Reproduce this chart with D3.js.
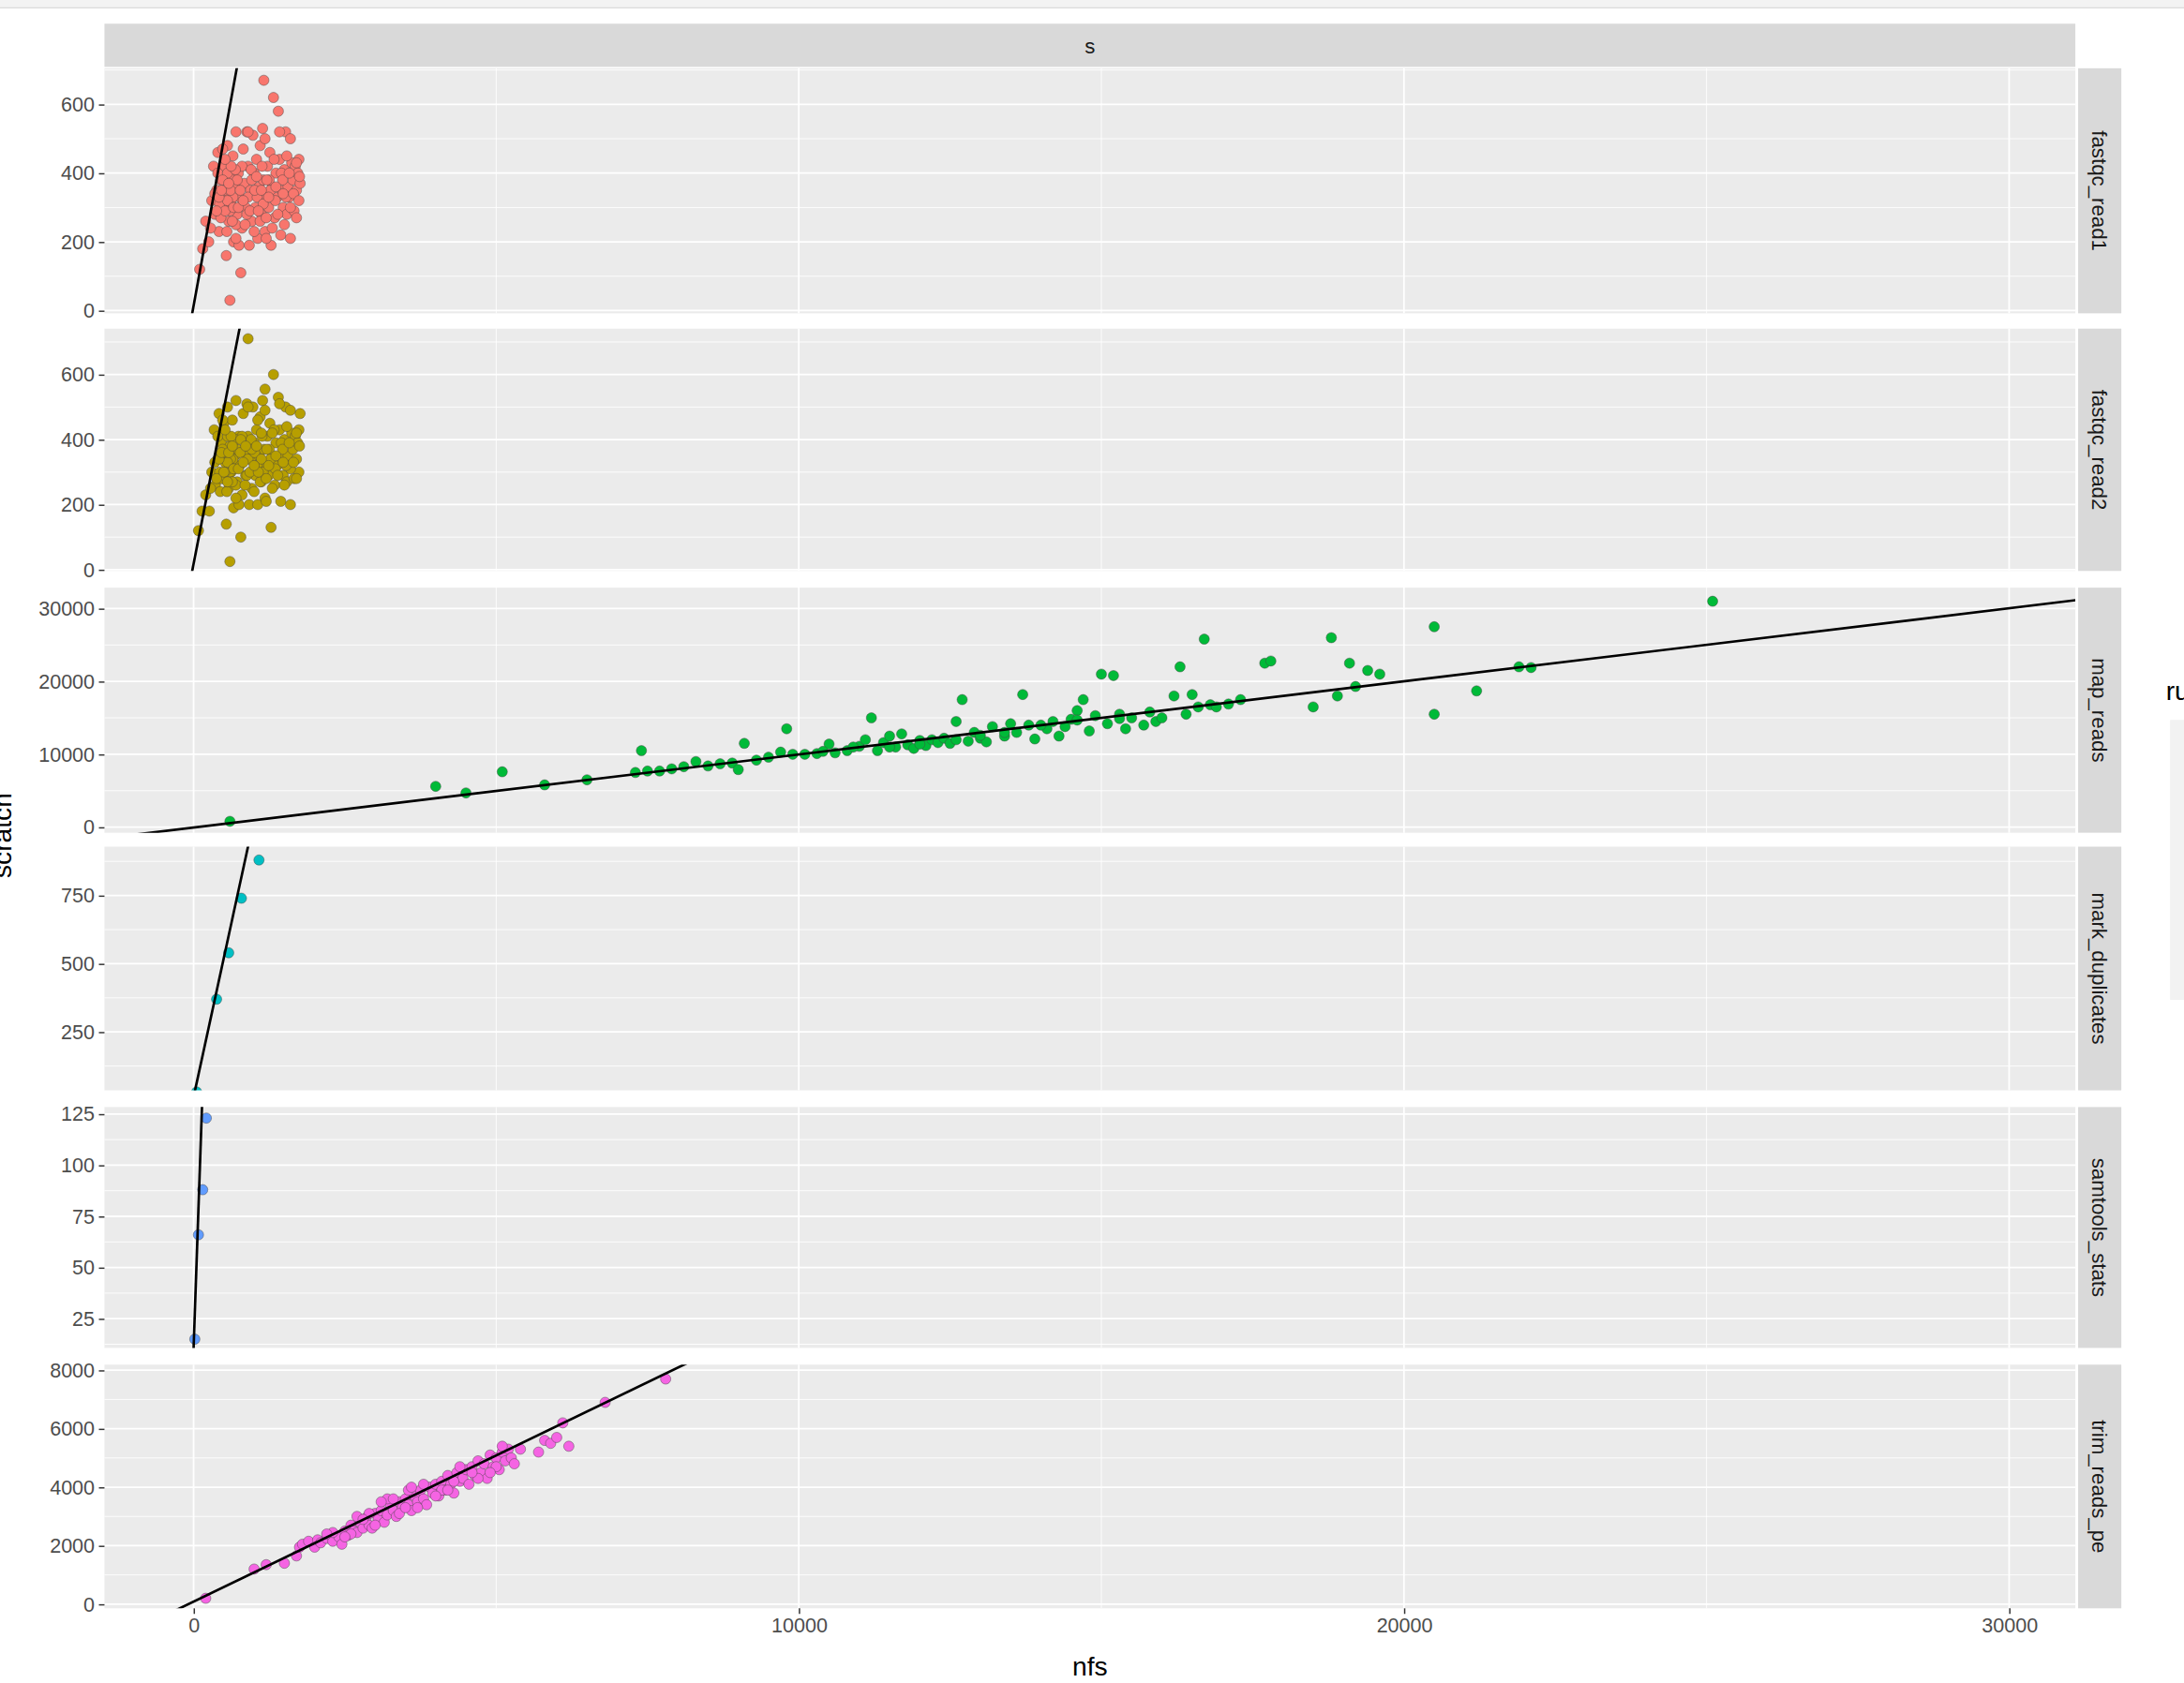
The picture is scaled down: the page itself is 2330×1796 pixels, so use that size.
<!DOCTYPE html>
<html><head><meta charset="utf-8">
<script src="https://cdn.jsdelivr.net/npm/d3@7"></script>
<style>body{margin:0;background:#fff}svg{display:block}</style>
</head><body>
<script>
// ---- data ----
const facets = ["fastqc_read1","fastqc_read2","map_reads","mark_duplicates","samtools_stats","trim_reads_pe"];
const colors = ["#F8766D","#B79F00","#00BA38","#00BFC4","#619CFF","#F564E3"];
const xTicks = [0,10000,20000,30000];
const yTicksList = [[0,200,400,600],[0,200,400,600],[0,10000,20000,30000],[250,500,750],[25,50,75,100,125],[0,2000,4000,6000,8000]];
// fitted lines [intercept, slope]
const fits = [[14,0.969],[18,0.953],[-49,1.003],[12,1.02],[10.7,0.85],[87,1.0]];

const fastqc_read1 = [[100,120],[150,180],[200,260],[250,200],[300,320],[330,420],[350,280],[380,350],[400,460],[420,230],[450,380],[470,300],[500,420],[520,340],[540,160],[560,480],[580,260],[600,30],[600,390],[620,310],[650,450],[660,200],[680,360],[700,520],[720,280],[740,400],[760,330],[780,110],[800,240],[820,470],[840,370],[860,300],[880,520],[900,420],[920,190],[940,350],[960,260],[980,510],[1000,400],[1020,300],[1040,440],[1060,210],[1080,360],[1100,480],[1120,280],[1140,530],[1150,380],[1160,670],[1180,230],[1200,330],[1220,420],[1240,300],[1260,460],[1280,190],[1300,360],[1320,620],[1340,270],[1360,400],[1380,330],[1400,580],[1420,440],[1440,220],[1460,350],[1480,300],[1500,410],[1520,520],[1540,280],[1560,360],[1580,330],[1600,210],[1620,430],[1640,380],[1660,290],[1680,420],[1700,350],[1720,400],[1740,440],[1760,370],[450,270],[500,350],[550,230],[600,290],[650,330],[700,250],[750,190],[800,420],[850,250],[900,330],[950,410],[1000,230],[1050,330],[1100,260],[1150,310],[1200,270],[1250,380],[1300,240],[1350,320],[1450,400],[1500,250],[1600,300],[1700,270],[400,400],[480,470],[560,400],[640,260],[720,380],[880,280],[1010,350],[1130,420],[1270,350],[1390,280],[1530,330],[350,340],[430,310],[520,290],[610,350],[690,410],[770,350],[930,290],[1070,290],[1210,380],[1330,440],[1470,380],[1650,340],[1750,390],[280,240],[380,290],[1180,500],[1420,520],[1600,500],[1540,450],[1700,430],[1740,320],[1200,210],[900,520],[700,210],[620,420],[560,320],[480,380],[420,330],[460,350],[520,440],[580,370],[660,300],[740,300],[820,320],[960,380],[1040,390],[1120,350],[1240,330],[1360,360],[1480,340],[1580,400]];
const fastqc_read2 = [[80,120],[140,180],[200,230],[260,180],[300,300],[340,430],[360,260],[400,340],[420,480],[440,240],[460,390],[480,280],[500,450],[520,330],[540,140],[560,500],[580,250],[600,25],[600,380],[620,300],[640,460],[660,190],[680,350],[700,520],[720,270],[740,410],[760,320],[780,100],[800,230],[820,480],[840,360],[860,290],[880,510],[900,410],[920,200],[940,340],[960,250],[980,500],[1000,390],[1020,290],[1040,430],[1060,200],[1080,350],[1100,470],[1120,270],[1140,520],[1160,370],[1180,555],[1180,220],[1200,320],[1220,410],[1240,290],[1260,450],[1280,130],[1300,350],[1320,600],[1340,260],[1360,390],[1380,320],[1400,530],[1420,430],[1440,210],[1460,340],[1480,290],[1500,400],[1520,500],[1540,270],[1560,350],[1580,320],[1600,200],[1620,420],[1640,370],[1660,280],[1680,410],[1700,340],[1720,390],[1740,430],[1760,480],[1740,300],[450,280],[500,360],[550,240],[600,300],[650,340],[700,260],[750,200],[800,410],[850,260],[900,340],[950,400],[1000,240],[1050,320],[1100,270],[1150,300],[1200,280],[1250,370],[1300,250],[1350,310],[1450,390],[1500,260],[1600,310],[1700,280],[400,410],[480,460],[560,410],[640,270],[720,370],[880,290],[1010,360],[1130,410],[1270,340],[1390,290],[1530,320],[350,330],[430,300],[520,300],[610,340],[690,400],[770,360],[930,300],[1070,300],[1210,370],[1330,430],[1470,370],[1650,330],[1750,380],[280,250],[380,280],[1180,490],[1420,510],[1600,490],[1540,440],[1700,420],[1200,210],[900,500],[700,220],[620,410],[560,330],[480,370],[420,340],[460,360],[520,430],[580,360],[660,310],[740,310],[820,330],[960,370],[1040,380],[1120,340],[1240,320],[1360,350],[1480,330],[1580,390],[900,710],[1120,420],[500,300],[640,380],[780,400],[560,270],[860,380],[1000,320],[1300,420],[1060,460]];
const map_reads = [[600,800],[4000,5600],[4500,4700],[5100,7600],[5800,5800],[6500,6500],[7300,7500],[7400,10500],[7500,7700],[7700,7700],[7900,8000],[8100,8300],[8300,9000],[8500,8400],[8700,8700],[8900,8800],[9000,7900],[9100,11500],[9300,9200],[9500,9600],[9700,10300],[9800,13500],[9900,10000],[10100,10000],[10300,10100],[10500,11400],[10600,10200],[10800,10500],[11000,11100],[11100,12000],[11200,15000],[11300,10500],[11400,11600],[11500,12500],[11600,11000],[11700,12800],[11800,11300],[11900,10800],[12000,11900],[12100,11200],[12200,12000],[12300,11600],[12400,12200],[12500,11500],[12600,14500],[12700,17500],[12800,11800],[12900,13000],[13000,12200],[13100,11700],[13200,13800],[13400,12500],[13500,14200],[13600,13000],[13700,18200],[13800,14000],[13900,12100],[14100,13500],[14200,14500],[14300,12500],[14400,13800],[14500,14800],[14600,16000],[14700,17500],[14800,13200],[14900,15300],[15000,21000],[15100,14200],[15200,20800],[15300,15500],[15400,13500],[15500,15000],[15700,14000],[15800,15800],[15900,14500],[16000,15000],[16200,18000],[16300,22000],[16400,15500],[16500,18200],[16600,16500],[16700,25800],[16800,16800],[16900,16500],[17100,16900],[17300,17500],[17700,22500],[17800,22800],[18500,16500],[18800,26000],[18900,18000],[19100,22500],[19200,19300],[19400,21500],[19600,21000],[20500,27500],[20500,15500],[21200,18700],[21900,22000],[22100,21900],[25100,31000],[10400,10400],[10900,11000],[11500,11000],[12000,11400],[12600,12000],[13000,12600],[13400,13000],[14000,14000],[14600,14700],[15300,14900]];
const mark_duplicates = [[50,30],[380,370],[580,540],[790,740],[1080,880]];
const samtools_stats = [[20,15],[80,66],[150,88],[210,123]];
const trim_reads_pe = [[200,200],[1000,1200],[1200,1350],[1500,1400],[1700,1650],[1750,1950],[1800,2050],[1900,2150],[2000,1950],[2050,2200],[2100,2100],[2200,2250],[2300,2150],[2400,2300],[2450,2050],[2500,2500],[2550,2350],[2600,2700],[2650,2500],[2700,2450],[2750,2800],[2800,2600],[2850,2950],[2900,2700],[2950,2600],[3000,3100],[3050,2900],[3100,3200],[3150,2800],[3200,3050],[3250,3400],[3300,3200],[3350,3000],[3400,3500],[3450,3300],[3500,3600],[3550,3400],[3600,3200],[3650,3700],[3700,3500],[3750,3900],[3800,3600],[3850,3400],[3900,4000],[3950,3800],[4000,4100],[4050,3700],[4100,4200],[4150,3900],[4200,4400],[4250,4100],[4300,3800],[4350,4500],[4400,4200],[4450,4300],[4500,4600],[4550,4100],[4600,4700],[4650,4400],[4700,4900],[4750,4500],[4800,4800],[4850,4300],[4900,5100],[4950,4700],[5000,5000],[5050,4600],[5100,5200],[5150,4900],[5200,5300],[5250,5000],[5300,4800],[3200,3600],[3550,3900],[3000,2700],[2700,3000],[2300,2450],[2600,2400],[3400,3100],[3800,4100],[4100,3900],[4400,4700],[4700,4300],[5000,4700],[2900,3100],[3300,3600],[3700,3300],[4300,4200],[4600,4500],[4900,4500],[2200,2400],[2500,2300],[3100,3500],[3600,4000],[4000,3700],[2800,2900],[3500,3300],[4200,3900],[5100,5400],[5400,5300],[5700,5200],[5800,5600],[5900,5500],[6000,5700],[6200,5400],[6100,6200],[6800,6900],[7800,7700]];
const seriesData = [fastqc_read1,fastqc_read2,map_reads,mark_duplicates,samtools_stats,trim_reads_pe];

// ---- layout (design units, scaled via viewBox) ----
const W=1568, H=1208.6;
const panelTops=[49,236,422,608,795,980], panelBots=[225,410,598,783,968,1155];
const yDomains=[[-8,705],[-4,741],[-764,32866],[36,929],[10.7,128.4],[-143,8190]];
const svg=d3.select("body").append("svg").attr("width",2330).attr("height",1796).attr("viewBox",`0 0 ${W} ${H}`);
const font="Liberation Sans, Arial, sans-serif";
svg.append("rect").attr("x",0).attr("y",0).attr("width",W).attr("height",5).attr("fill","#f3f3f3");
svg.append("line").attr("x1",0).attr("x2",W).attr("y1",5.5).attr("y2",5.5).attr("stroke","#dcdcdc");

const x=d3.scaleLinear().domain([-1473,31094]).range([75,1490]);
const xMinor=[-5000,5000,15000,25000];
svg.append("rect").attr("x",75).attr("y",17).attr("width",1415).attr("height",31).attr("fill","#d9d9d9");
svg.append("text").attr("x",782.5).attr("y",38.5).attr("text-anchor","middle").attr("font-family",font).attr("font-size",15).attr("fill","#1a1a1a").text("s");

const defs=svg.append("defs");
facets.forEach((f,i)=>{
  const t=panelTops[i], b=panelBots[i];
  const y=d3.scaleLinear().domain(yDomains[i]).range([b,t]);
  const g=svg.append("g");
  g.append("rect").attr("x",75).attr("y",t).attr("width",1415).attr("height",b-t).attr("fill","#ebebeb");
  const ticks=yTicksList[i];
  const step=ticks[1]-ticks[0];
  const minors=d3.range(ticks[0]-step/2,ticks[ticks.length-1]+step,step).filter(v=>v>yDomains[i][0]&&v<yDomains[i][1]);
  g.selectAll(".ymin").data(minors).join("line").attr("x1",75).attr("x2",1490).attr("y1",d=>y(d)).attr("y2",d=>y(d)).attr("stroke","#fff").attr("stroke-width",0.6);
  g.selectAll(".xmin").data(xMinor.filter(v=>v>-1473)).join("line").attr("y1",t).attr("y2",b).attr("x1",d=>x(d)).attr("x2",d=>x(d)).attr("stroke","#fff").attr("stroke-width",0.6);
  g.selectAll(".ymaj").data(ticks).join("line").attr("x1",75).attr("x2",1490).attr("y1",d=>y(d)).attr("y2",d=>y(d)).attr("stroke","#fff").attr("stroke-width",1.2);
  g.selectAll(".xmaj").data(xTicks).join("line").attr("y1",t).attr("y2",b).attr("x1",d=>x(d)).attr("x2",d=>x(d)).attr("stroke","#fff").attr("stroke-width",1.2);
  const ax=svg.append("g").attr("transform","translate(75,0)").call(d3.axisLeft(y).tickValues(ticks).tickSize(4).tickPadding(3).tickFormat(d3.format("d")));
  ax.select(".domain").remove();
  ax.selectAll("line").attr("stroke","#333");
  ax.selectAll("text").attr("font-family",font).attr("font-size",14.5).attr("fill","#4d4d4d");
  defs.append("clipPath").attr("id","c"+i).append("rect").attr("x",75).attr("y",t).attr("width",1415).attr("height",b-t);
  const pg=svg.append("g").attr("clip-path",`url(#c${i})`);
  pg.selectAll("circle").data(seriesData[i]).join("circle").attr("cx",d=>x(d[0])).attr("cy",d=>y(d[1])).attr("r",3.7)
    .attr("fill",colors[i]).attr("stroke","#444").attr("stroke-opacity",0.6).attr("stroke-width",0.5);
  const [a,s]=fits[i]; const xd=x.domain();
  pg.append("line").attr("x1",x(xd[0])).attr("y1",y(a+s*xd[0])).attr("x2",x(xd[1])).attr("y2",y(a+s*xd[1])).attr("stroke","#000").attr("stroke-width",1.8);
  svg.append("rect").attr("x",1492).attr("y",t).attr("width",31).attr("height",b-t).attr("fill","#d9d9d9");
  svg.append("text").attr("transform",`translate(1502,${(t+b)/2}) rotate(90)`).attr("text-anchor","middle").attr("font-family",font).attr("font-size",15).attr("fill","#1a1a1a").text(f);
});
const xa=svg.append("g").attr("transform","translate(0,1155)").call(d3.axisBottom(x).tickValues(xTicks).tickSize(4).tickPadding(3).tickFormat(d3.format("d")));
xa.select(".domain").remove();
xa.selectAll("line").attr("stroke","#333");
xa.selectAll("text").attr("font-family",font).attr("font-size",14.5).attr("fill","#4d4d4d");
svg.append("text").attr("x",782.5).attr("y",1203).attr("text-anchor","middle").attr("font-family",font).attr("font-size",19).attr("fill","#000").text("nfs");
svg.append("text").attr("transform","translate(8,600) rotate(-90)").attr("text-anchor","middle").attr("font-family",font).attr("font-size",19).attr("fill","#000").text("scratch");
svg.append("text").attr("x",1555).attr("y",503).attr("font-family",font).attr("font-size",19).attr("fill","#000").text("run");
svg.append("rect").attr("x",1558).attr("y",517).attr("width",30).attr("height",201).attr("fill","#f2f2f2");
</script>
</body></html>
